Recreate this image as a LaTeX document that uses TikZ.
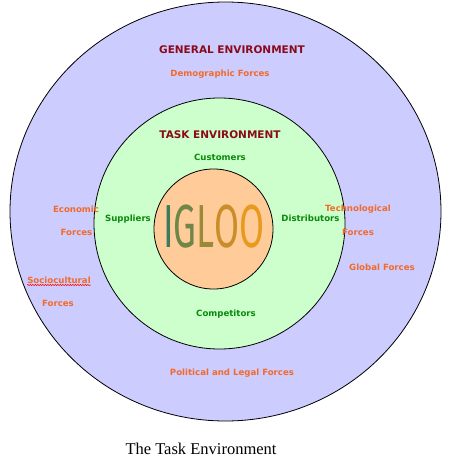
\documentclass[tikz,border=0pt]{standalone}
\usepackage{fontspec}
\setmainfont{Liberation Serif}
\newfontfamily\comicf{DejaVu Sans}
\newfontfamily\iglf{Fira Sans}
\usetikzlibrary{decorations.pathmorphing}
\definecolor{genfill}{HTML}{CCCCFF}
\definecolor{taskfill}{HTML}{CCFFCC}
\definecolor{corefill}{HTML}{FFCC99}
\definecolor{titlered}{HTML}{8B0A1A}
\definecolor{forceor}{HTML}{F26A2A}
\definecolor{taskgr}{HTML}{0A8A0A}
\tikzset{
  ring/.style={draw=black, line width=0.8pt},
  title/.style={font=\comicf\bfseries\fontsize{10.5}{12}\selectfont, text=titlered, inner sep=0pt},
  force/.style={font=\comicf\bfseries\fontsize{8.6}{10}\selectfont, text=forceor, inner sep=0pt},
  actor/.style={font=\comicf\bfseries\fontsize{8.6}{10}\selectfont, text=taskgr, inner sep=0pt},
}
\newcommand{\iglword}[1]{\scalebox{0.95}[1.6]{\iglf\fontsize{38}{40}\selectfont #1}}
\begin{document}
\begin{tikzpicture}[x=1pt,y=-1pt]
\useasboundingbox (0,0) rectangle (448,457);
\fill[white] (0,0) rectangle (448,457);
\draw[ring, fill=genfill] (225.5,211.5) ellipse [x radius=215.5, y radius=209.5];
\draw[ring, fill=taskfill] (219.5,223.5) circle [radius=125.5];
\draw[ring, fill=corefill] (213.5,229) ellipse [x radius=59.5, y radius=60];
\node[title] (gen) at (232,50) {GENERAL ENVIRONMENT};
\node[force] (demo) at (220,74) {Demographic Forces};
\node[title] (task) at (220,135) {TASK ENVIRONMENT};
\node[actor] (cust) at (220,157) {Customers};
\node[force] (econ1) at (76,209) {Economic};
\node[force] (econ2) at (76.5,232) {Forces};
\node[actor] (supp) at (128,219) {Suppliers};
\node[actor] (dist) at (310.5,218) {Distributors};
\node[force] (tech1) at (358,209) {Technological};
\node[force] (tech2) at (358,232) {Forces};
\node[force] (glob) at (382,267) {Global Forces};
\node[force] (soc1) at (59,280) {Sociocultural};
\draw[red, line width=0.5pt, decorate, decoration={snake, amplitude=0.7pt, segment length=2.5pt}]
  ([yshift=-1.5pt]soc1.south west) -- ([yshift=-1.5pt]soc1.south east);
\node[force] (soc2) at (58,303) {Forces};
\node[actor] (comp) at (226,314) {Competitors};
\node[force] (pol) at (232,373) {Political and Legal Forces};
\node[inner sep=0pt, font=\fontsize{16.5}{19}\selectfont] (cap) at (201,449) {The Task Environment};
\node[inner sep=0pt] (igloo) at (214,227) {\iglword{\textcolor[HTML]{3E7A5C}{I}\textcolor[HTML]{6E8648}{G}\textcolor[HTML]{9A8A38}{L}\textcolor[HTML]{C98E28}{O}\textcolor[HTML]{E89A1E}{O}}};
\end{tikzpicture}
\end{document}
